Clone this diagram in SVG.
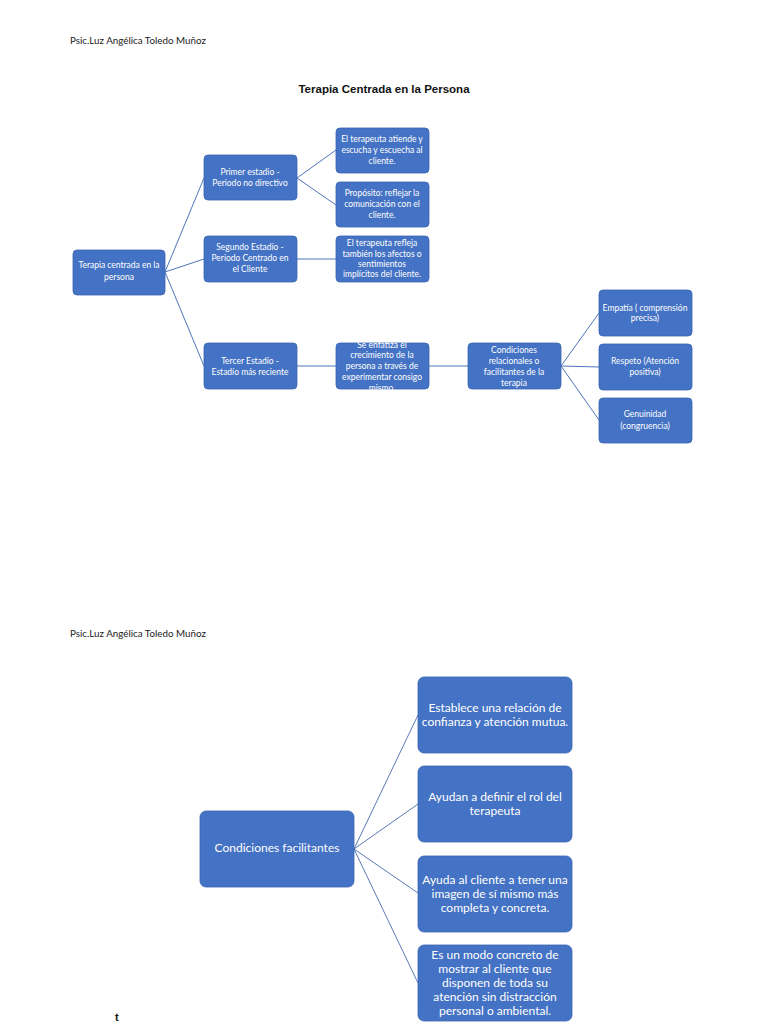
<svg xmlns="http://www.w3.org/2000/svg" width="768" height="1024" viewBox="0 0 768 1024">
<style>
.bg{fill:#ffffff}
.box{fill:#4472C4;stroke:#3A64B0;stroke-width:0.8}
.t{fill:#ffffff;font-family:Lato,"Open Sans","Liberation Sans",sans-serif;font-size:8.5px;text-anchor:middle}
.t2{fill:#ffffff;font-family:Lato,"Open Sans","Liberation Sans",sans-serif;font-size:12px;text-anchor:middle}
.hdr{fill:#222222;font-family:Lato,"Open Sans","Liberation Sans",sans-serif;font-size:9.8px}
.title{fill:#111111;font-family:"Liberation Sans",Arial,sans-serif;font-size:11.5px;font-weight:bold;text-anchor:middle}
.ln{stroke:#4F74BC;stroke-width:1;fill:none}
.ln2{stroke:#4A6AAE;stroke-width:0.9;fill:none}
</style>
<rect class="bg" x="0" y="0" width="768" height="1024"/>
<text class="hdr" x="70" y="44">Psic.Luz Angélica Toledo Muñoz</text>
<text class="title" x="384" y="93">Terapia Centrada en la Persona</text>
<text class="hdr" x="70" y="637">Psic.Luz Angélica Toledo Muñoz</text>

<g id="connectors">
<path class="ln" d="M165,272 L204,178 M165,272 L204,259 M165,272 L204,366"/>
<path class="ln" d="M297,178 L336,150 M297,178 L336,205"/>
<path class="ln" d="M297,259 L336,259"/>
<path class="ln" d="M297,366 L336,366 M429,366 L468,366"/>
<path class="ln" d="M561,366 L599,313 M561,366 L599,367 M561,366 L599,420"/>
<path class="ln2" d="M354,849 L418,715 M354,849 L418,804 M354,849 L418,893 M354,849 L418,983"/>
</g>

<g id="root">
<rect class="box" x="73" y="250" width="92" height="45" rx="4"/>
<text class="t" x="119" y="268">Terapia centrada en la</text>
<text class="t" x="119" y="280">persona</text>
</g>
<g id="primer">
<rect class="box" x="204" y="155" width="93" height="45" rx="4"/>
<text class="t" x="250" y="175">Primer estadio -</text>
<text class="t" x="250" y="186">Periodo no directivo</text>
</g>
<g id="segundo">
<rect class="box" x="204" y="236" width="93" height="46" rx="4"/>
<text class="t" x="250" y="250">Segundo Estadío -</text>
<text class="t" x="250" y="261">Periodo Centrado en</text>
<text class="t" x="250" y="272">el Cliente</text>
</g>
<g id="tercer">
<rect class="box" x="204" y="343" width="93" height="46" rx="4"/>
<text class="t" x="250" y="364">Tercer Estadío -</text>
<text class="t" x="250" y="375">Estadío más reciente</text>
</g>
<g id="atiende">
<rect class="box" x="336" y="128" width="93" height="45" rx="4"/>
<text class="t" x="382" y="142">El terapeuta atiende y</text>
<text class="t" x="382" y="153">escucha y escuecha al</text>
<text class="t" x="382" y="164">cliente.</text>
</g>
<g id="proposito">
<rect class="box" x="336" y="182" width="93" height="45" rx="4"/>
<text class="t" x="382" y="196">Propósito: reflejar la</text>
<text class="t" x="382" y="207">comunicación con el</text>
<text class="t" x="382" y="218">cliente.</text>
</g>
<g id="refleja">
<rect class="box" x="336" y="236" width="93" height="46" rx="4"/>
<text class="t" x="382" y="246">El terapeuta refleja</text>
<text class="t" x="382" y="257">también los afectos o</text>
<text class="t" x="382" y="267">sentimientos</text>
<text class="t" x="382" y="277">implícitos del cliente.</text>
</g>
<g id="enfatiza">
<rect class="box" x="336" y="343" width="93" height="46" rx="4"/>
<text class="t" x="382" y="348">Se enfatiza el</text>
<text class="t" x="382" y="358">crecimiento de la</text>
<text class="t" x="382" y="369">persona a través de</text>
<text class="t" x="382" y="380">experimentar consigo</text>
<text class="t" x="382" y="391">mismo.</text>
</g>
<g id="condiciones">
<rect class="box" x="468" y="343" width="93" height="46" rx="4"/>
<text class="t" x="514" y="353">Condiciones</text>
<text class="t" x="514" y="364">relacionales o</text>
<text class="t" x="514" y="375">facilitantes de la</text>
<text class="t" x="514" y="386">terapia</text>
</g>
<g id="empatia">
<rect class="box" x="599" y="290" width="93" height="46" rx="4"/>
<text class="t" x="645" y="311">Empatía ( comprensión</text>
<text class="t" x="645" y="321">precisa)</text>
</g>
<g id="respeto">
<rect class="box" x="599" y="344" width="93" height="46" rx="4"/>
<text class="t" x="645" y="364">Respeto (Atención</text>
<text class="t" x="645" y="375">positiva)</text>
</g>
<g id="genuinidad">
<rect class="box" x="599" y="398" width="93" height="45" rx="4"/>
<text class="t" x="645" y="417">Genuinidad</text>
<text class="t" x="645" y="429">(congruencia)</text>
</g>

<g id="facilitantes">
<rect class="box" x="200" y="811" width="154" height="76" rx="6"/>
<text class="t2" x="277" y="852">Condiciones facilitantes</text>
</g>
<g id="establece">
<rect class="box" x="418" y="677" width="154" height="76" rx="6"/>
<text class="t2" x="495" y="712">Establece una relación de</text>
<text class="t2" x="495" y="726">confianza y atención mutua.</text>
</g>
<g id="ayudan">
<rect class="box" x="418" y="766" width="154" height="76" rx="6"/>
<text class="t2" x="495" y="801">Ayudan a definir el rol del</text>
<text class="t2" x="495" y="815">terapeuta</text>
</g>
<g id="ayuda">
<rect class="box" x="418" y="856" width="154" height="76" rx="6"/>
<text class="t2" x="495" y="884">Ayuda al cliente a tener una</text>
<text class="t2" x="495" y="898">imagen de sí mismo más</text>
<text class="t2" x="495" y="912">completa y concreta.</text>
</g>
<g id="modo">
<rect class="box" x="418" y="945" width="154" height="76" rx="6"/>
<text class="t2" x="495" y="959">Es un modo concreto de</text>
<text class="t2" x="495" y="973">mostrar al cliente que</text>
<text class="t2" x="495" y="987">disponen de toda su</text>
<text class="t2" x="495" y="1001">atención sin distracción</text>
<text class="t2" x="495" y="1015">personal o ambiental.</text>
</g>
<text x="115" y="1021" style="fill:#111;font-family:'Liberation Sans',Arial,sans-serif;font-size:11px;font-weight:bold">t</text>
</svg>
